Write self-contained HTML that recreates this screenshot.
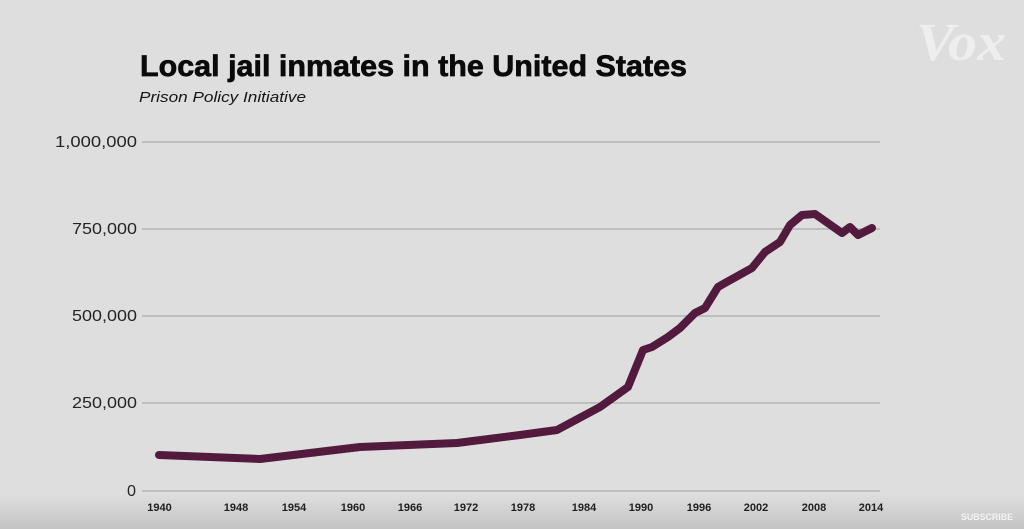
<!DOCTYPE html>
<html>
<head>
<meta charset="utf-8">
<style>
  html, body { margin:0; padding:0; }
  body { width:1024px; height:529px; overflow:hidden; background:#dfdede; }
  svg { display:block; }
</style>
</head>
<body>
<svg width="1024" height="529" viewBox="0 0 1024 529" xmlns="http://www.w3.org/2000/svg">
  <defs>
    <linearGradient id="bot" x1="0" y1="0" x2="0" y2="1">
      <stop offset="0" stop-color="#000" stop-opacity="0"/>
      <stop offset="1" stop-color="#000" stop-opacity="0.12"/>
    </linearGradient>
  </defs>
  <rect x="0" y="0" width="1024" height="529" fill="#dfdede"/>

  <!-- Vox logo -->
  <text x="916" y="60" font-family="Liberation Serif, serif" font-style="italic" font-weight="bold" font-size="54" fill="#eeeeee" textLength="90" lengthAdjust="spacingAndGlyphs">Vox</text>

  <!-- Title -->
  <text x="140" y="76" font-family="Liberation Sans, sans-serif" font-weight="bold" font-size="30" fill="#0a0a0a" stroke="#0a0a0a" stroke-width="0.7" textLength="547" lengthAdjust="spacingAndGlyphs">Local jail inmates in the United States</text>
  <text x="139" y="102" font-family="Liberation Sans, sans-serif" font-style="italic" font-size="14.5" fill="#161616" textLength="167" lengthAdjust="spacingAndGlyphs">Prison Policy Initiative</text>

  <!-- Gridlines -->
  <g stroke="#b4b3b4" stroke-width="1.5">
    <line x1="142" y1="142" x2="880" y2="142"/>
    <line x1="142" y1="229" x2="880" y2="229"/>
    <line x1="142" y1="316" x2="880" y2="316"/>
    <line x1="142" y1="403" x2="880" y2="403"/>
    <line x1="142" y1="491" x2="880" y2="491"/>
  </g>

  <!-- Y labels -->
  <g font-family="Liberation Sans, sans-serif" font-size="15.5" fill="#242424" text-anchor="end">
    <text x="137" y="147" textLength="82" lengthAdjust="spacingAndGlyphs">1,000,000</text>
    <text x="137" y="234" textLength="65" lengthAdjust="spacingAndGlyphs">750,000</text>
    <text x="137" y="321" textLength="65" lengthAdjust="spacingAndGlyphs">500,000</text>
    <text x="137" y="408" textLength="65" lengthAdjust="spacingAndGlyphs">250,000</text>
    <text x="136" y="496" textLength="9" lengthAdjust="spacingAndGlyphs">0</text>
  </g>

  <!-- X labels -->
  <g font-family="Liberation Sans, sans-serif" font-size="11" font-weight="bold" fill="#222" text-anchor="middle">
    <text x="159.5" y="511">1940</text>
    <text x="236" y="511">1948</text>
    <text x="294" y="511">1954</text>
    <text x="353" y="511">1960</text>
    <text x="410" y="511">1966</text>
    <text x="466" y="511">1972</text>
    <text x="523" y="511">1978</text>
    <text x="584" y="511">1984</text>
    <text x="641" y="511">1990</text>
    <text x="699" y="511">1996</text>
    <text x="756" y="511">2002</text>
    <text x="814" y="511">2008</text>
    <text x="871" y="511">2014</text>
  </g>

  <!-- Data line -->
  <polyline fill="none" stroke="#521a3d" stroke-width="8" stroke-linejoin="round" stroke-linecap="round"
    points="159,455 260,459 360,447 457,443 520,435 557,430 600,407 628,387 643,350 652,347 668,337 680,328 695,313 705,308 718,287 725,283 752,268 765,252 780,242 790,225 802,215 815,214 842,233 850,227 858,235 872,228"/>

  <!-- bottom overlay gradient -->
  <rect x="0" y="494" width="1024" height="35" fill="url(#bot)"/>
  <text x="961" y="520" font-family="Liberation Sans, sans-serif" font-weight="bold" font-size="9" fill="#f4f4f4" textLength="52" lengthAdjust="spacingAndGlyphs">SUBSCRIBE</text>
</svg>
</body>
</html>
